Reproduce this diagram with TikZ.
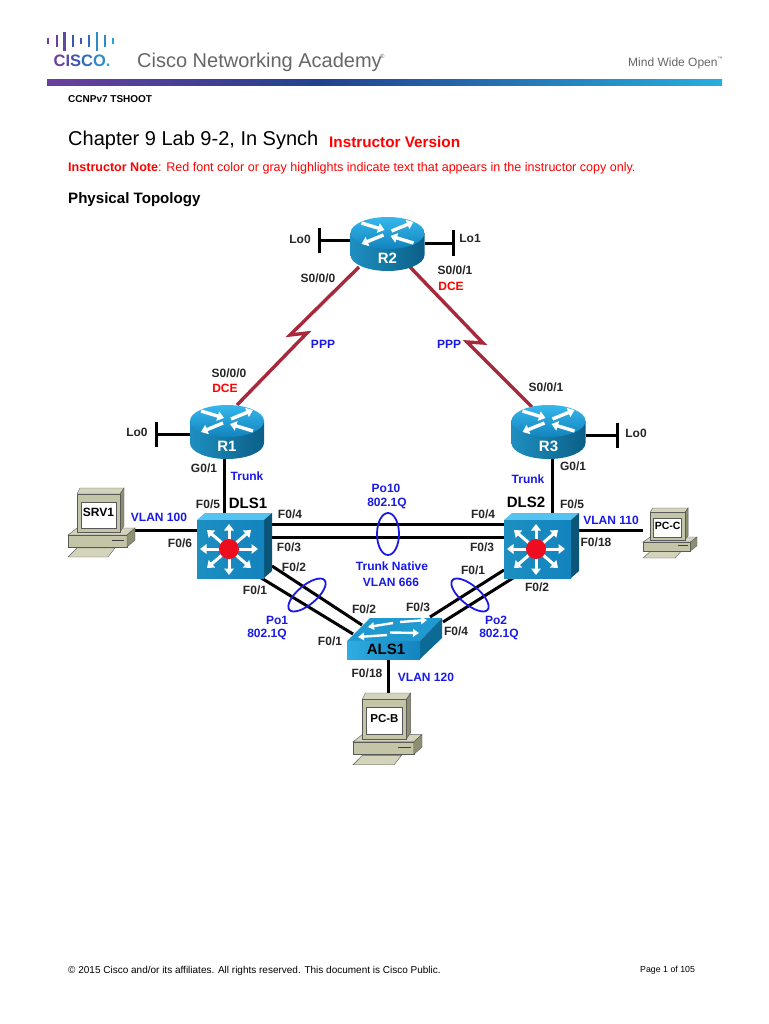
\documentclass[tikz,border=0pt]{standalone}
\usepackage{fontspec}
\setmainfont{Liberation Sans}
\usetikzlibrary{arrows.meta}
\definecolor{linkred}{HTML}{A8283C}
\definecolor{lblue}{HTML}{1A1AE6}
\definecolor{lred}{HTML}{FF0000}
\definecolor{gtxt}{HTML}{666666}
\definecolor{rtop}{HTML}{36B8EC}
\definecolor{rtopb}{HTML}{1283BE}
\definecolor{rbodyl}{HTML}{1E8FC0}
\definecolor{rbodyr}{HTML}{0C6A96}
\definecolor{pcfront}{HTML}{C4C4A6}
\definecolor{pctop}{HTML}{D4D4BC}
\definecolor{pcside}{HTML}{8E8E72}
\definecolor{lg1}{HTML}{6B3F9C}
\definecolor{lg2}{HTML}{5A4AA6}
\definecolor{lg3}{HTML}{3F58AE}
\definecolor{lg4}{HTML}{2F6DB8}
\definecolor{lg5}{HTML}{2E8AC8}
\definecolor{lg6}{HTML}{2E9FD8}
\definecolor{bandmid}{HTML}{21418F}
\tikzset{
  x=1pt,y=-1pt,
  box/.style={inner sep=0,outer sep=0,minimum width=#1},
  lbl/.style={font=\bfseries\fontsize{12}{13}\selectfont,inner sep=0,text=black!85},
  blbl/.style={lbl,text=lblue},
  rlbl/.style={lbl,text=lred},
  bigl/.style={font=\bfseries\fontsize{15}{16}\selectfont,inner sep=0},
  wire/.style={line width=3pt,black},
  ppp/.style={line width=3.4pt,linkred,line join=miter},
  po/.style={line width=1.8pt,lblue},
  warrow/.style={white,line width=3.4pt,-{Triangle[width=9.5pt,length=6.5pt]}},
  sarrow/.style={white,line width=2.4pt,-{Triangle[width=7.5pt,length=6pt]}},
  pline/.style={inner sep=0,anchor=west},
}
\newcommand{\routerdraw}[3]{%
\begin{scope}[shift={(#1,#2)}]
 \shade[left color=rbodyl,middle color=rbodyr,right color=rbodyr!90!black] (-37,0) -- (-37,22) .. controls (-37,31) and (-20,38) .. (0,38) .. controls (20,38) and (37,31) .. (37,22) -- (37,0) -- cycle;
 \shade[top color=rtop,bottom color=rtopb] (0,0) ellipse [x radius=37,y radius=16];
 \draw[warrow] (-26,-10) -- (-3,-3);
 \draw[warrow] (26,10) -- (3,3);
 \draw[warrow] (4,-2) -- (26,-11);
 \draw[warrow] (-4,2) -- (-26,11);
 \node[bigl,text=white] (#3txt) at (0,25) {#3};
\end{scope}}
\newcommand{\lthree}[2]{%
\begin{scope}[shift={(#1,#2)}]
 \fill[rtop!85!white] (0,7) -- (8,0) -- (75,0) -- (67,7) -- cycle;
 \fill[rbodyr!80!black] (67,7) -- (75,0) -- (75,58) -- (67,65) -- cycle;
 \shade[left color=rbodyl,right color=rtopb] (0,7) rectangle (67,65);
 \foreach \dx/\dy in {0/-25,0/26,-29/0,29/0,-22/-19,22/-19,-22/19,22/19}{
   \draw[warrow,line width=3pt] (32,36) -- ++(\dx,\dy);
 }
 \fill[red!70!purple!95!white] (32,36) circle [radius=10];
\end{scope}}
\newcommand{\pcdraw}[6]{% x y sx sy name textsize
\begin{scope}[shift={(#1,#2)},xscale=#3,yscale=#4]
 \tikzset{every path/.style={draw=black!65,line width=.4pt}}
 \filldraw[fill=pctop] (0,69) -- (9,60) -- (47,60) -- (40,69) -- cycle;
 \filldraw[fill=pctop] (0,47) -- (9,40) -- (67,40) -- (59,47) -- cycle;
 \filldraw[fill=pcfront] (0,47) rectangle (59,59);
 \filldraw[fill=pcside] (59,47) -- (67,40) -- (67,52) -- (59,59) -- cycle;
 \draw[black!75,line width=.8pt] (44,52) -- (56,52);
 \filldraw[fill=pctop] (9,6) -- (12,0) -- (56,0) -- (52,6) -- cycle;
 \filldraw[fill=pcside] (52,6) -- (56,0) -- (56,38) -- (52,44) -- cycle;
 \filldraw[fill=pcfront] (9,6) rectangle (52,44);
 \filldraw[fill=white] (13,14) rectangle (48,40);
\end{scope}
\node[inner sep=0,font=\bfseries\fontsize{#6}{12}\selectfont] (#5txt) at (#1+30.5*#3,#2+24.5*#4) {#5};}
\begin{document}
\begin{tikzpicture}
\useasboundingbox (0,0) rectangle (768,1024);
\fill[white] (0,0) rectangle (768,1024);

% header logo
\foreach \bx/\bh/\c in {48.3/3/lg1,56.7/6/lg1,64.5/9.5/lg2,72.7/6/lg3,80.7/3/lg3,89.3/6/lg4,97.3/9.5/lg5,105/6/lg5,113.3/3/lg6}{
  \fill[\c] (\bx-1.1,41.5-\bh) rectangle (\bx+1.1,41.5+\bh);
}
\node[pline,font=\bfseries\fontsize{16.5}{18}\selectfont] (logo) at (53.5,61) {\addfontfeature{LetterSpace=9}{\color{lg1}C}{\color{lg2}I}{\color{lg3}S}{\color{lg4}C}{\color{lg5}O}{\color{lg6}.}};
\node[pline,text=gtxt,font=\fontsize{20}{22}\selectfont] (acad) at (137,62) {Cisco Networking Academy};
\node[pline,text=gtxt,font=\fontsize{6}{7}\selectfont] (acadr) at (380,56) {®};
\node[pline,text=gtxt,font=\fontsize{12}{14}\selectfont] (mind) at (628,63) {Mind Wide Open};
\node[pline,text=gtxt,font=\fontsize{5}{6}\selectfont] (mindt) at (717.5,59) {™};
\shade[left color=lg1,right color=bandmid] (47,80) rectangle (320,86);
\shade[left color=bandmid,right color=lg6!85!cyan] (320,80) rectangle (722,86);

\node[pline,font=\bfseries\fontsize{10}{12}\selectfont] (course) at (68,99) {CCNPv7 TSHOOT};
\node[pline,font=\fontsize{20}{24}\selectfont] (title) at (68,140) {Chapter 9 Lab 9-2, In Synch};
\node[pline,text=lred,font=\bfseries\fontsize{15.3}{18}\selectfont] (iv) at (329,142) {Instructor Version};
\node[pline,text=lred,font=\fontsize{12.55}{14}\selectfont] (inote) at (68,168) {\textbf{Instructor Note}: Red font color or gray highlights indicate text that appears in the instructor copy only.};
\node[pline,font=\bfseries\fontsize{15.1}{18}\selectfont] (phys) at (68,200) {Physical Topology};
\node[pline,font=\fontsize{10}{12}\selectfont] (foot) at (68,970.5) {© 2015 Cisco and/or its affiliates. All rights reserved. This document is Cisco Public.};
\node[pline,font=\fontsize{8.8}{12}\selectfont] (page) at (640,970.5) {Page 1 of 105};

% device footprints
\node[box=75pt,minimum height=54pt] (R2) at (387.5,244) {};
\node[box=74pt,minimum height=54pt] (R1) at (227,432) {};
\node[box=74pt,minimum height=54pt] (R3) at (548.5,432) {};
\node[box=75pt,minimum height=65pt] (DLS1) at (234.5,545.5) {};
\node[box=75pt,minimum height=65pt] (DLS2) at (541.5,545.5) {};
\node[box=95pt,minimum height=41pt] (ALS1) at (394.5,638.5) {};
\node[box=67pt,minimum height=69pt] (SRV1) at (101.5,522.5) {};
\node[box=54pt,minimum height=50pt] (PCC) at (670,533) {};
\node[box=69pt,minimum height=72pt] (PCB) at (387.5,729) {};

% loopback stubs
\coordinate (R2lo0) at (319,240.5);
\coordinate (R2lo1) at (453,243);
\coordinate (R1lo0) at (156,434);
\coordinate (R3lo0) at (617,435);
\draw[wire] (R2lo0) -- (R2lo0 -| R2.west);
\draw[wire] (R2lo1) -- (R2lo1 -| R2.east);
\draw[wire] (R1lo0) -- (R1lo0 -| R1.west);
\draw[wire] (R3lo0) -- (R3lo0 -| R3.east);
\foreach \c in {R2lo0,R2lo1,R1lo0,R3lo0}{\draw[wire] (\c) ++(0,-12.5) -- ++(0,25);}

% serial links
\coordinate (kL1) at (290,335); \coordinate (kL2) at (307,333);
\coordinate (kR1) at (483,343); \coordinate (kR2) at (467,342);
\coordinate (R2a) at (359,267); \coordinate (R2b) at (410,267);
\coordinate (R1a) at (237,405); \coordinate (R3a) at (532,407);
\draw[ppp] (R2a) -- (kL1) -- (kL2) -- (R1a);
\draw[ppp] (R2b) -- (kR1) -- (kR2) -- (R3a);

% ethernet links
\coordinate (lnkS) at (0,530);
\coordinate (p10a) at (0,524.5); \coordinate (p10b) at (0,537);
\draw[wire] (R1.south -| 224,0) -- (DLS1.north -| 224,0);
\draw[wire] (R3.south -| 552,0) -- (DLS2.north -| 552,0);
\draw[wire] (SRV1.east |- lnkS) -- (DLS1.west |- lnkS);
\draw[wire] (DLS2.east |- lnkS) -- (PCC.west |- lnkS);
\draw[wire] (DLS1.east |- p10a) -- (DLS2.west |- p10a);
\draw[wire] (DLS1.east |- p10b) -- (DLS2.west |- p10b);
\coordinate (a1s) at (272,566); \coordinate (a1e) at (362,625);
\coordinate (a2s) at (258,576); \coordinate (a2e) at (353,634);
\coordinate (b1s) at (504,570); \coordinate (b1e) at (430,617);
\coordinate (b2s) at (513,578); \coordinate (b2e) at (443,622);
\draw[wire] (a1s) -- (a1e);
\draw[wire] (a2s) -- (a2e);
\draw[wire] (b1s) -- (b1e);
\draw[wire] (b2s) -- (b2e);
\draw[wire] (388,650) -- (388,700);

% port-channel rings
\coordinate (po1) at (307,595); \coordinate (po2) at (470,595); \coordinate (po10) at (388,534);
\draw[po,rotate around={40:(po1)}] (po1) ellipse [x radius=23,y radius=9.5];
\draw[po,rotate around={-40:(po2)}] (po2) ellipse [x radius=23,y radius=9.5];
\draw[po] (po10) ellipse [x radius=11,y radius=21];

% devices
\routerdraw{387.5}{233}{R2}
\routerdraw{227}{421}{R1}
\routerdraw{548.5}{421}{R3}
\lthree{197}{513}
\lthree{504}{513}
\begin{scope}[shift={(347,618)}]
 \fill[rtopb!60!rtop] (0,23) -- (23,0) -- (95,0) -- (73,23) -- cycle;
 \fill[rbodyr] (73,23) -- (95,0) -- (95,20) -- (73,41) -- cycle;
 \shade[left color=rtop!80!rtopb,right color=rtopb] (0,23) rectangle (73,41);
 \draw[sarrow] (46,5) -- (21,9);
 \draw[sarrow] (53,4) -- (80,2);
 \draw[sarrow] (40,17) -- (11,19);
 \draw[sarrow] (43,14.5) -- (72,15);
\end{scope}
\node[bigl] (ALS1txt) at (386,649) {ALS1};
\pcdraw{68}{488}{1}{1}{SRV1}{12}
\pcdraw{643}{508}{0.806}{0.725}{PC-C}{10.5}
\pcdraw{353}{693}{1.03}{1.04}{PC-B}{11.5}

% labels
\node[lbl] (a1) at (300,239) {Lo0};
\node[lbl] (a2) at (470,238) {Lo1};
\node[lbl] (a3) at (137,432) {Lo0};
\node[lbl] (a4) at (636,433) {Lo0};
\node[lbl] (b1) at (318,278) {S0/0/0};
\node[lbl] (b2) at (455,270) {S0/0/1};
\node[rlbl] (b3) at (451,286) {DCE};
\node[lbl] (b4) at (229,373) {S0/0/0};
\node[rlbl] (b5) at (225,388) {DCE};
\node[lbl] (b6) at (546,387) {S0/0/1};
\node[blbl] (b7) at (323,344) {PPP};
\node[blbl] (b8) at (449,344) {PPP};
\node[lbl] (c1) at (204,468) {G0/1};
\node[blbl] (c2) at (247,476) {Trunk};
\node[lbl] (c3) at (208,504) {F0/5};
\node[bigl] (c4) at (248,503) {DLS1};
\node[blbl] (c5) at (159,517) {VLAN 100};
\node[lbl] (c6) at (180,543) {F0/6};
\node[lbl] (c7) at (290,514) {F0/4};
\node[lbl] (c8) at (289,547) {F0/3};
\node[lbl] (c9) at (294,567) {F0/2};
\node[lbl] (c10) at (255,590) {F0/1};
\node[blbl] (d1) at (277,620) {Po1};
\node[blbl] (d2) at (267,634) {802.1Q};
\node[lbl] (d3) at (364,609) {F0/2};
\node[lbl] (d4) at (330,641) {F0/1};
\node[lbl] (d5) at (418,607) {F0/3};
\node[lbl] (d6) at (456,631) {F0/4};
\node[blbl] (d7) at (496,620) {Po2};
\node[blbl] (d8) at (499,634) {802.1Q};
\node[lbl] (d9) at (367,673) {F0/18};
\node[blbl] (d10) at (426,677) {VLAN 120};
\node[blbl] (e1) at (386,488) {Po10};
\node[blbl] (e2) at (387,503) {802.1Q};
\node[blbl] (e3) at (392,566) {Trunk Native};
\node[blbl] (e4) at (391,582) {VLAN 666};
\node[lbl] (e5) at (483,514) {F0/4};
\node[lbl] (e6) at (482,547) {F0/3};
\node[lbl] (e7) at (473,570) {F0/1};
\node[lbl] (f1) at (537,587) {F0/2};
\node[lbl] (f2) at (573,466) {G0/1};
\node[blbl] (f3) at (528,479) {Trunk};
\node[bigl] (f4) at (526,502) {DLS2};
\node[lbl] (f5) at (572,504) {F0/5};
\node[blbl] (f6) at (611,520) {VLAN 110};
\node[lbl] (f7) at (596,542) {F0/18};
\end{tikzpicture}
\end{document}
